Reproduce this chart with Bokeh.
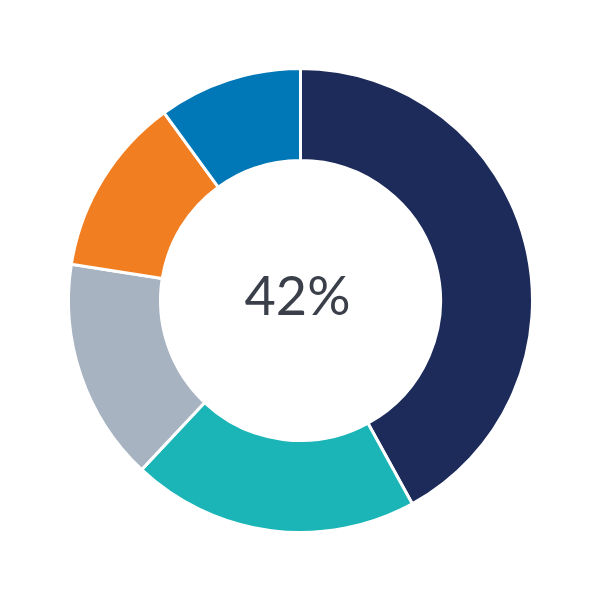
import numpy as np
from bokeh.plotting import figure
from bokeh.models import ColumnDataSource
from bokeh.core.properties import value
from bokeh.embed import file_html
from bokeh.resources import INLINE

# Data
categories = ["A", "B", "C", "D", "E"]
shares = [42, 20, 15.5, 12.5, 10]
colors = ["#1c2b5a", "#1bb5b8", "#a8b3c2", "#f27e22", "#0077b6"]
center_label = "42%"

vals = np.array(shares, dtype=float)
frac = vals / vals.sum()
cum_end = np.cumsum(frac) * 2 * np.pi
cum_start = np.concatenate([[0.0], cum_end[:-1]])

source = ColumnDataSource(dict(
    cat=categories,
    start=np.pi / 2 - cum_start,
    end=np.pi / 2 - cum_end,
    color=colors,
))

W = 584
p = figure(width=W, height=W, output_backend="svg", toolbar_location=None,
           x_range=(-300, 284), y_range=(-284, 300), min_border=0,
           match_aspect=False)
p.axis.visible = False
p.grid.visible = False
p.outline_line_color = None
p.background_fill_color = "white"

p.annular_wedge(x=0, y=0, inner_radius=140, outer_radius=232,
                start_angle="start", end_angle="end", direction="clock",
                fill_color="color", line_color="white", line_width=3,
                source=source)

p.text(x=[-3], y=[6], text=[center_label], text_align="center",
       text_baseline="middle", text_font=value("Lato"),
       text_font_size="54px", text_color="#3a3f4a")

open("out.html", "w").write(file_html(p, INLINE))
